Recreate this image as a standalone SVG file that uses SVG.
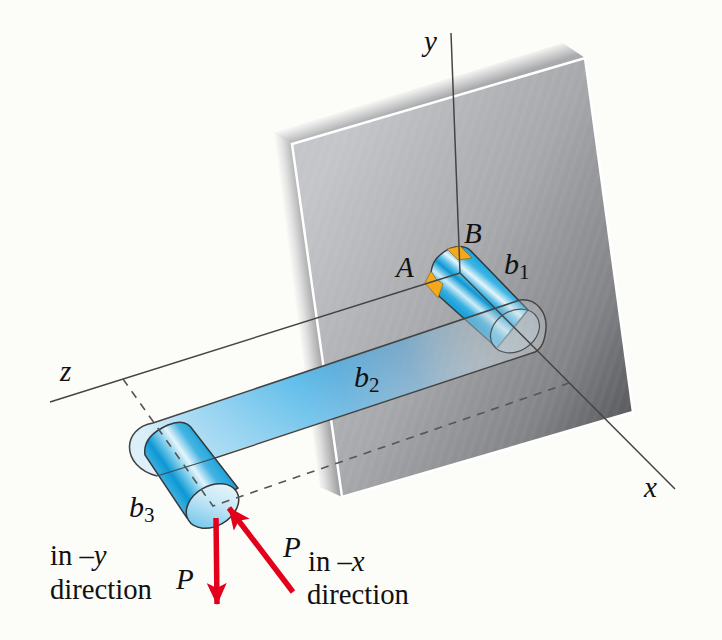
<svg xmlns="http://www.w3.org/2000/svg" width="722" height="640" viewBox="0 0 722 640">
<style>
text{font-family:"Liberation Serif","Times New Roman",serif;fill:#111;font-size:28.700px}
.i{font-style:italic;font-size:29px}
.b{font-style:italic;font-size:30px}
.s{font-size:21px;font-style:normal}
.l{fill:none;stroke:#444;stroke-width:1.5}
.d{fill:none;stroke:#555;stroke-width:1.6;stroke-dasharray:8 7}
.e{stroke:#33393c;stroke-width:1.5}
.r{fill:none;stroke:#e3001b;stroke-width:5.500}
</style>
<defs>
<linearGradient id="plate" gradientUnits="userSpaceOnUse" x1="300" y1="210" x2="640" y2="410"><stop offset="0" stop-color="#c4c5c8"/><stop offset=".45" stop-color="#a6a8ab"/><stop offset=".78" stop-color="#828487"/><stop offset="1" stop-color="#55575a"/></linearGradient>
<pattern id="hatch" patternUnits="userSpaceOnUse" width="9" height="9" patternTransform="rotate(18)"><rect width="4" height="9" fill="#fff" fill-opacity=".03"/></pattern>
<linearGradient id="top" gradientUnits="userSpaceOnUse" x1="423" y1="83" x2="429" y2="102"><stop offset="0" stop-color="#fcfcf9"/><stop offset=".25" stop-color="#eeeeed"/><stop offset="1" stop-color="#a9aaac"/></linearGradient>
<linearGradient id="side" gradientUnits="userSpaceOnUse" x1="296" y1="312" x2="320" y2="309"><stop offset="0" stop-color="#fcfcf9"/><stop offset=".3" stop-color="#e2e2e2"/><stop offset="1" stop-color="#8e8f91"/></linearGradient>
<linearGradient id="c1" gradientUnits="userSpaceOnUse" x1="476" y1="254" x2="442" y2="295"><stop offset="0" stop-color="#16a0da"/><stop offset=".2" stop-color="#3cb4e4"/><stop offset=".36" stop-color="#e6f5fb"/><stop offset=".47" stop-color="#5cc0e8"/><stop offset=".58" stop-color="#0c98d4"/><stop offset=".75" stop-color="#d0edf8"/><stop offset=".9" stop-color="#3cb0e0"/><stop offset="1" stop-color="#1da2da"/></linearGradient>
<linearGradient id="c3" gradientUnits="userSpaceOnUse" x1="147" y1="462" x2="196" y2="428"><stop offset="0" stop-color="#45b4e2"/><stop offset=".22" stop-color="#0c98d4"/><stop offset=".42" stop-color="#7fcdec"/><stop offset=".58" stop-color="#e4f4fb"/><stop offset=".78" stop-color="#45b4e2"/><stop offset="1" stop-color="#1ba2da"/></linearGradient>
<linearGradient id="b2" gradientUnits="userSpaceOnUse" x1="150" y1="455" x2="535" y2="325"><stop offset="0" stop-color="#dbeff9"/><stop offset=".12" stop-color="#a9dbf3"/><stop offset=".4" stop-color="#60bdea"/><stop offset=".5" stop-color="#5caedd"/><stop offset=".68" stop-color="#6ba6cd" stop-opacity=".8"/><stop offset=".85" stop-color="#a4bccb" stop-opacity=".45"/><stop offset="1" stop-color="#b8c4cc" stop-opacity=".2"/></linearGradient>
<linearGradient id="b2w" gradientUnits="userSpaceOnUse" x1="320" y1="367" x2="340" y2="418"><stop offset="0" stop-color="#fff" stop-opacity="0"/><stop offset="1" stop-color="#fff" stop-opacity=".18"/></linearGradient>
<linearGradient id="end" gradientUnits="userSpaceOnUse" x1="190" y1="525" x2="235" y2="490"><stop offset="0" stop-color="#6cc4ea"/><stop offset=".6" stop-color="#c8e8f6"/><stop offset="1" stop-color="#e8f6fb"/></linearGradient>
<marker id="arr" viewBox="0 0 22 20" refX="21" refY="10" markerWidth="22" markerHeight="20" markerUnits="userSpaceOnUse" orient="auto"><path d="M0 0L22 10L0 20L5 10Z" fill="#e3001b"/></marker>
</defs>
<rect width="722" height="640" fill="#fcfcf9"/>
<g id="plate-wall">
<path d="M292 144L273 133L563 43L585 58Z" fill="url(#top)"/>
<path d="M292 144L273 133L320 487L342 497Z" fill="url(#side)"/>
<path d="M292 144L585 58L633 412L342 497Z" fill="url(#plate)"/>
<path d="M292 144L585 58L633 412L342 497Z" fill="url(#hatch)" stroke="#fff" stroke-width="2.5"/>
</g>
<g id="shaft-b1">
<path d="M470 250L528 310L497 348L440 297C425 282 431 262 440 255C450 246 462 244 470 250Z" fill="url(#c1)" class="e"/>
</g>
<g id="bar-b2">
<path d="M153 423L520 300C536 298 547 312 546 328C545 342 541 349 535 352L157 476C118 466 122 428 153 423Z" fill="url(#b2)"/>
<path d="M153 423L520 300C536 298 547 312 546 328C545 342 541 349 535 352L157 476C118 466 122 428 153 423Z" fill="url(#b2w)"/>
<path class="l" d="M153 423L520 300C536 298 547 312 546 328C545 342 541 349 535 352L215 458M157 476C120 466 122 428 153 423"/>
</g>
<g id="shaft-b1-end">
<ellipse cx="515" cy="331" rx="26" ry="20" transform="rotate(-32 515 331)" fill="#cfe9f5" fill-opacity=".28" stroke="#4a5054" stroke-width="1.2"/>
</g>
<g id="support-A"><path d="M431 271L425 283L438 298L443 284L436 279Z" fill="#f5a81c" stroke="#7a5a10" stroke-width=".6"/></g>
<g id="support-B"><path d="M447 249L460 246L472 258L458 260Z" fill="#f5a81c" stroke="#7a5a10" stroke-width=".6"/></g>
<g id="shaft-b3">
<path d="M145 455C143 442 152 432 168 425C180 420 188 422 193 430L238 488L187 518Z" fill="url(#c3)" class="e"/>
<ellipse cx="212.500" cy="506" rx="28" ry="20" transform="rotate(-30 212.500 506)" fill="url(#end)" class="e"/>
<path d="M157 476L215 458" fill="none" stroke="#3c4a50" stroke-width="1.2"/>
</g>
<g id="connectors">
<path class="l" d="M451 33L460 273L675 489"/>
<path class="l" d="M460 273L50 402"/>
<path class="d" d="M123 379L213 506L569 383"/>
<path class="r" d="M216 518L217 604" marker-end="url(#arr)"/>
<path class="r" d="M293 592L229 508" marker-end="url(#arr)"/>
</g>
<g id="labels">
<text class="i" x="424" y="51">y</text>
<text class="i" x="60" y="381">z</text>
<text class="i" x="644" y="497">x</text>
<text class="i" x="396" y="277">A</text>
<text class="i" x="464" y="243">B</text>
<text class="b" x="504" y="274">b<tspan class="s" dy="5">1</tspan></text>
<text class="b" x="354" y="387">b<tspan class="s" dy="5">2</tspan></text>
<text class="b" x="129" y="517">b<tspan class="s" dy="5">3</tspan></text>
<text x="50" y="565">in <tspan font-style="italic">–y</tspan></text>
<text x="50" y="599">direction</text>
<text class="i" x="176" y="589">P</text>
<text class="i" x="283" y="557">P</text>
<text x="308" y="571">in <tspan font-style="italic">–x</tspan></text>
<text x="307" y="604">direction</text>
</g>
</svg>
